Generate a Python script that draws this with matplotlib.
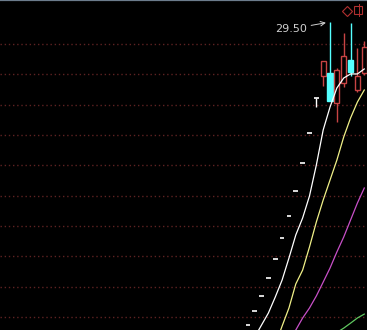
import numpy as np
import matplotlib
matplotlib.use('Agg')
import matplotlib.pyplot as plt

# one-price limit up days (open=close=high=low), shown as dashes
flat_close = [10.08, 10.97, 11.94, 13.09, 14.31, 15.65, 17.06, 18.67, 20.46, 22.38]

# T shaped day
t_close = 24.63
t_low = 24.05

# last candles
c_open  = [26.04, 26.23, 24.31, 25.59, 27.06, 25.14, 26.23]
c_close = [27.00, 24.44, 26.42, 27.32, 26.29, 26.04, 27.90]
c_high  = [27.00, 29.50, 26.55, 28.79, 29.44, 27.83, 28.28]
c_low   = [25.40, 24.44, 23.09, 25.33, 26.04, 25.01, 26.10]

# moving average lines, one value per day
ma5  = [8.47, 9.31, 10.08, 10.85, 11.87, 12.96, 14.37, 15.85, 16.94, 18.35,
        20.33, 22.58, 24.05, 25.27, 25.91, 26.17, 26.17, 26.49]
ma10 = [8.80, 10.01, 11.17, 12.71, 13.60, 15.08, 16.68, 18.09, 19.37, 20.65,
        22.13, 23.35, 24.37, 25.14]          # from day 4
ma20 = [9.76, 10.53, 11.17, 11.94, 12.83, 13.73, 14.76, 15.72, 16.81, 17.90,
        18.86]                                 # from day 7
ma60 = [9.60, 9.88, 10.20, 10.53, 10.78]       # from day 13

grid_levels = [28.09, 26.17, 24.18, 22.26, 20.33, 18.35, 16.42, 14.50, 12.51, 10.59]
high_label = '29.50'

fig = plt.figure(figsize=(3.67, 3.30), dpi=100)
fig.patch.set_facecolor('black')
ax = fig.add_axes([0, 0, 1, 1])
ax.set_facecolor('black')

for g in grid_levels:
    ax.axhline(g, color='#5e2222', lw=1, ls=(0, (1, 2)))

n_flat = len(flat_close)
xf = np.arange(n_flat)
ax.hlines(flat_close, xf - 0.34, xf + 0.34, color='white', lw=1.2)

# T day
xt = n_flat
ax.hlines(t_close, xt - 0.34, xt + 0.34, color='white', lw=1.2)
ax.vlines(xt, t_low, t_close, color='white', lw=1)

red = '#c84444'
cyan = '#55ffff'
w = 0.74
for k in range(len(c_open)):
    x = n_flat + 1 + k
    o, c, h, l = c_open[k], c_close[k], c_high[k], c_low[k]
    if c >= o:
        ax.vlines(x, max(o, c), h, color=red, lw=1)
        ax.vlines(x, l, min(o, c), color=red, lw=1)
        ax.add_patch(plt.Rectangle((x - w / 2, o), w, c - o, facecolor='black',
                                   edgecolor=red, lw=1, zorder=3))
    else:
        ax.vlines(x, l, h, color=cyan, lw=1)
        ax.add_patch(plt.Rectangle((x - w / 2, c), w, o - c, facecolor=cyan,
                                   edgecolor=cyan, lw=1, zorder=3))

ax.plot(np.arange(len(ma5)), ma5, color='white', lw=0.9, zorder=4)
ax.plot(np.arange(4, 4 + len(ma10)), ma10, color='#f0f088', lw=0.9, zorder=4)
ax.plot(np.arange(7, 7 + len(ma20)), ma20, color='#c850c8', lw=0.9, zorder=4)
ax.plot(np.arange(13, 13 + len(ma60)), ma60, color='#60c860', lw=0.9, zorder=4)

# highest price label
ih = int(np.argmax(c_high))
ax.annotate(high_label, xy=(n_flat + 1 + ih, c_high[ih]), xytext=(-23, -7),
            textcoords='offset pixels', ha='right', va='center',
            fontsize=8, color='#d0d0d0',
            arrowprops=dict(arrowstyle='->', color='#d0d0d0', lw=0.7,
                            shrinkA=1, shrinkB=3))

# little icons top right
ax.plot([0.945], [0.967], marker='D', ms=5, mfc='none', mec='#b03030',
        mew=0.8, transform=ax.transAxes, clip_on=False)
ax.plot([0.975], [0.970], marker='s', ms=6, mfc='none', mec='#b03030',
        mew=0.8, transform=ax.transAxes, clip_on=False)
ax.plot([0.977, 0.977], [0.952, 0.988], color='#b03030', lw=0.7,
        transform=ax.transAxes)

ax.set_xlim(-36.2, 17.4)
ax.set_ylim(9.76, 30.91)
for s in ['left', 'right', 'bottom']:
    ax.spines[s].set_visible(False)
ax.spines['top'].set_color('#6c7c8c')
ax.spines['top'].set_linewidth(1.6)
ax.set_xticks([])
ax.set_yticks([])

plt.savefig('out.png', dpi=100, facecolor='black')
